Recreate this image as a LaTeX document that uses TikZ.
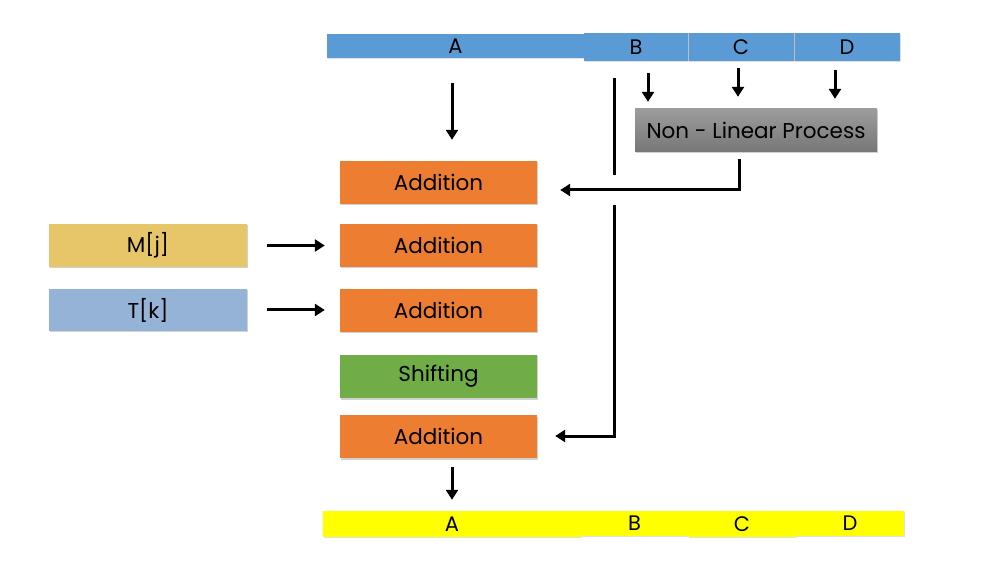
\documentclass[tikz,border=0pt]{standalone}
\usepackage{fontspec}
\setmainfont{Poppins}
\usetikzlibrary{arrows.meta,shadows}
\definecolor{topblue}{HTML}{5B9BD5}
\definecolor{addorange}{HTML}{ED7D31}
\definecolor{shiftgreen}{HTML}{70AD47}
\definecolor{mgold}{HTML}{E7C66A}
\definecolor{tblue}{HTML}{95B3D7}
\definecolor{ybar}{HTML}{FFFF00}
\definecolor{gtop}{HTML}{9C9C9C}
\definecolor{gbot}{HTML}{777777}
\tikzset{
  box/.style={inner sep=0pt, font=\fontsize{21.5}{24}\selectfont, text=black,
    drop shadow={shadow xshift=1pt, shadow yshift=-1.5pt, opacity=0.18, fill=black}},
  seg/.style={inner sep=0pt, font=\fontsize{21}{24}\selectfont, text=black,
    drop shadow={shadow xshift=0.8pt, shadow yshift=-1pt, opacity=0.12, fill=black}},
  addbox/.style={box, fill=addorange, minimum width=197pt, minimum height=43pt},
  arr/.style={line width=3pt, -{Triangle[length=10pt,width=12pt]}},
  ln/.style={line width=3pt},
}
\begin{document}
\begin{tikzpicture}[x=1pt,y=-1pt]
\useasboundingbox (0,0) rectangle (1005,564);
% top bar
\node[seg, fill=topblue, minimum width=257pt, minimum height=24pt] (tA) at (455.5,46) {A};
\node[seg, fill=topblue, minimum width=104pt, minimum height=28pt] (tB) at (636,47) {B};
\node[seg, fill=topblue, minimum width=106pt, minimum height=28pt] (tC) at (741,47) {C};
\node[seg, fill=topblue, minimum width=106pt, minimum height=28pt] (tD) at (847,47) {D};
\draw[black!25, line width=0.6pt] (tB.north east) -- (tB.south east) (tC.north east) -- (tC.south east);
% non-linear process
\node[box, top color=gtop, bottom color=gbot, minimum width=242pt, minimum height=43pt] (nlp) at (756,130.5) {Non - Linear Process};
% main column
\node[addbox] (add1) at (438.5,182.5) {Addition};
\node[addbox] (add2) at (438.5,245.5) {Addition};
\node[addbox] (add3) at (438.5,310.5) {Addition};
\node[box, fill=shiftgreen, minimum width=197pt, minimum height=43pt] (shift) at (438.5,376.5) {Shifting};
\node[addbox] (add5) at (438.5,436.5) {Addition};
% side inputs
\node[box, fill=mgold, minimum width=198pt, minimum height=43pt] (M) at (148,245.5) {M[j]};
\node[box, fill=tblue, minimum width=198pt, minimum height=42pt] (T) at (148,310) {T[k]};
% bottom bar
\node[seg, fill=ybar, minimum width=258pt, minimum height=26pt] (bA) at (452,524) {A};
\node[seg, fill=ybar, minimum width=107pt, minimum height=25pt] (bB) at (634.5,523.5) {B};
\node[seg, fill=ybar, minimum width=108pt, minimum height=26pt] (bC) at (742,524) {C};
\node[seg, fill=ybar, minimum width=108pt, minimum height=25pt] (bD) at (850,523.5) {D};
% coordinates
\coordinate (aS) at (452,83);
\coordinate (bS) at (648,73);
\coordinate (cS) at (738,68);
\coordinate (dS) at (835,70);
\coordinate (vTop) at (614,78);
\coordinate (vGap1) at (614,175);
\coordinate (vGap2) at (614,205);
\coordinate (vBot) at (614,436);
\coordinate (nS) at (739,159);
\coordinate (nC) at (739,190);
\coordinate (oS) at (452,467);
% connectors
\draw[arr, shorten >=21pt] (aS) -- (aS |- add1.north);
\draw[arr, shorten >=7pt] (bS) -- (bS |- nlp.north);
\draw[arr, shorten >=12pt] (cS) -- (cS |- nlp.north);
\draw[arr, shorten >=10pt] (dS) -- (dS |- nlp.north);
\draw[ln] (vTop) -- (vGap1);
\draw[arr, shorten >=23pt] (nS) -- (nC) -- (nC -| add1.east);
\draw[arr, shorten >=18pt] (vGap2) -- (vBot) -- (vBot -| add5.east);
\draw[arr, shorten <=20pt, shorten >=15pt] (M.east) -- (add2.west);
\draw[arr, shorten <=20pt, shorten >=15pt] (T.east) -- (T.east -| add3.west);
\draw[arr, shorten >=11pt] (oS) -- (oS |- bA.north);
\end{tikzpicture}
\end{document}
